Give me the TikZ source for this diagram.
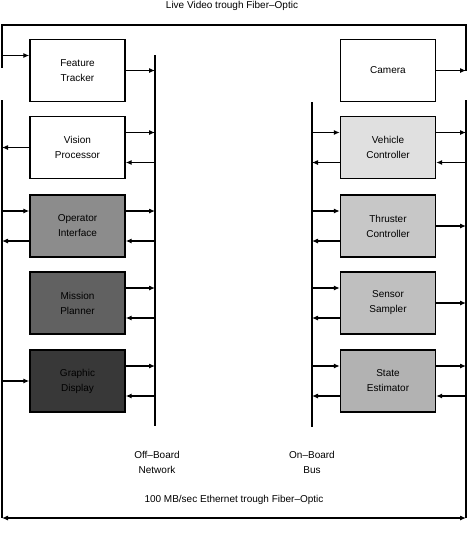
\documentclass[tikz,border=0pt]{standalone}
\usepackage{fontspec}
\setmainfont{Liberation Sans}
\usetikzlibrary{arrows.meta, positioning, calc}
\tikzset{
  %% -- process box --
  OT/box/.style={
    draw, line width=1.4pt, minimum width=95pt, minimum height=62pt,
    align=center, inner sep=2pt, font=\fontsize{10}{15}\selectfont
  },
  %% -- signal arrow --
  OT/arr/.style={-{Latex[length=6pt,width=5pt]}, line width=1.1pt},
  %% -- network / bus line --
  OT/bus/.style={line width=1.5pt},
  %% -- fibre loop line --
  OT/loop/.style={line width=1.8pt},
  %% -- caption text --
  OT/lbl/.style={font=\fontsize{10}{15}\selectfont, align=center},
}

\begin{document}
\begin{tikzpicture}[x=1pt, y=-1pt]

\useasboundingbox (0,0) rectangle (470,536);

\pgfmathsetmacro{\lxB}{77.5}   %% off-board boxes
\pgfmathsetmacro{\rxB}{388}    %% on-board boxes

%% ━━━━━━━━━━━━━━━━━━━━━━━━━━━━━━━━━━━━━━━━━━━━━━━━━━━━━━━━━━━━━━━━━━━━━
%%  COORDINATES — lines and loops
%% ━━━━━━━━━━━━━━━━━━━━━━━━━━━━━━━━━━━━━━━━━━━━━━━━━━━━━━━━━━━━━━━━━━━━━
\coordinate (vidL) at (2,25);
\coordinate (vidLB) at (2,68);
\coordinate (vidR) at (466,25);
\coordinate (ethTL) at (2,100);
\coordinate (ethTR) at (466,100);
\coordinate (ethL) at (2,518);
\coordinate (ethR) at (466,518);
\coordinate (netT) at (155,55);
\coordinate (netB) at (155,426);
\coordinate (busT) at (312,102);
\coordinate (busB) at (312,427);

%% ━━━━━━━━━━━━━━━━━━━━━━━━━━━━━━━━━━━━━━━━━━━━━━━━━━━━━━━━━━━━━━━━━━━━━
%%  LEFT COLUMN — off-board processes
%% ━━━━━━━━━━━━━━━━━━━━━━━━━━━━━━━━━━━━━━━━━━━━━━━━━━━━━━━━━━━━━━━━━━━━━
\node[OT/box, fill=white]    (ft) at (\lxB,70.5) {Feature\\Tracker};
\node[OT/box, fill=white]    (vp) at (\lxB,147.5) {Vision\\Processor};
\node[OT/box, fill=black!45] (oi) at (\lxB,226) {Operator\\Interface};
\node[OT/box, fill=black!62] (mp) at (\lxB,303) {Mission\\Planner};
\node[OT/box, fill=black!78] (dl) at (\lxB,381) {Graphic\\Display};

%% ━━━━━━━━━━━━━━━━━━━━━━━━━━━━━━━━━━━━━━━━━━━━━━━━━━━━━━━━━━━━━━━━━━━━━
%%  RIGHT COLUMN — on-board processes
%% ━━━━━━━━━━━━━━━━━━━━━━━━━━━━━━━━━━━━━━━━━━━━━━━━━━━━━━━━━━━━━━━━━━━━━
\node[OT/box, fill=white]    (cam) at (\rxB,70.5) {Camera};
\node[OT/box, fill=black!12] (vc)  at (\rxB,147.5) {Vehicle\\Controller};
\node[OT/box, fill=black!22] (tc)  at (\rxB,226) {Thruster\\Controller};
\node[OT/box, fill=black!25] (ss)  at (\rxB,303) {Sensor\\Sampler};
\node[OT/box, fill=black!30] (se)  at (\rxB,381) {State\\Estimator};

%% Off-board network and on-board bus
\draw[OT/bus] (netT) -- (netB);
\draw[OT/bus] (busT) -- (busB);

%% Live video loop: camera -> feature tracker
\draw[OT/arr] (cam.east) -- (cam.east -| vidR);
\draw[OT/loop] (cam.east -| vidR) -- (vidR) -- (vidL) -- (vidLB);
\draw[OT/arr] ([yshift=15pt]ft.west -| vidL) -- ([yshift=15pt]ft.west);

%% Ethernet loop
\draw[OT/loop] (ethTL) -- (ethL);
\draw[OT/loop] (ethTR) -- (ethR);
\draw[OT/arr, {Latex[length=6pt,width=5pt]}-{Latex[length=6pt,width=5pt]}]
  (ethL) -- (ethR);

%% Off-board boxes <-> ethernet
\draw[OT/arr] (vp.west) -- (vp.west -| ethL);
\draw[OT/arr] ([yshift=15pt]oi.west -| ethL) -- ([yshift=15pt]oi.west);
\draw[OT/arr] ([yshift=-15pt]oi.west) -- ([yshift=-15pt]oi.west -| ethL);
\draw[OT/arr] (dl.west -| ethL) -- (dl.west);

%% Off-board boxes <-> network
\draw[OT/arr] (ft.east) -- (ft.east -| netT);
\foreach \n in {vp,oi,mp,dl} {
  \draw[OT/arr] ([yshift=15pt]\n.east) -- ([yshift=15pt]\n.east -| netT);
  \draw[OT/arr] ([yshift=-15pt]\n.east -| netT) -- ([yshift=-15pt]\n.east);
}

%% On-board boxes <-> bus
\foreach \n in {vc,tc,ss,se} {
  \draw[OT/arr] ([yshift=15pt]\n.west -| busT) -- ([yshift=15pt]\n.west);
  \draw[OT/arr] ([yshift=-15pt]\n.west) -- ([yshift=-15pt]\n.west -| busT);
}

%% On-board boxes <-> ethernet
\draw[OT/arr] ([yshift=15pt]vc.east) -- ([yshift=15pt]vc.east -| ethR);
\draw[OT/arr] ([yshift=-15pt]vc.east -| ethR) -- ([yshift=-15pt]vc.east);
\draw[OT/arr] (tc.east) -- (tc.east -| ethR);
\draw[OT/arr] (ss.east) -- (ss.east -| ethR);
\draw[OT/arr] ([yshift=15pt]se.east) -- ([yshift=15pt]se.east -| ethR);
\draw[OT/arr] ([yshift=-15pt]se.east -| ethR) -- ([yshift=-15pt]se.east);

%% Captions
\node[OT/lbl] (vidlbl) at (232,6) {Live Video trough Fiber--Optic};
\node[OT/lbl] (netlbl) at (157,462) {Off--Board\\Network};
\node[OT/lbl] (buslbl) at (312,462) {On--Board\\Bus};
\node[OT/lbl] (ethlbl) at (234,500) {100 MB/sec Ethernet trough Fiber--Optic};

\end{tikzpicture}
\end{document}
